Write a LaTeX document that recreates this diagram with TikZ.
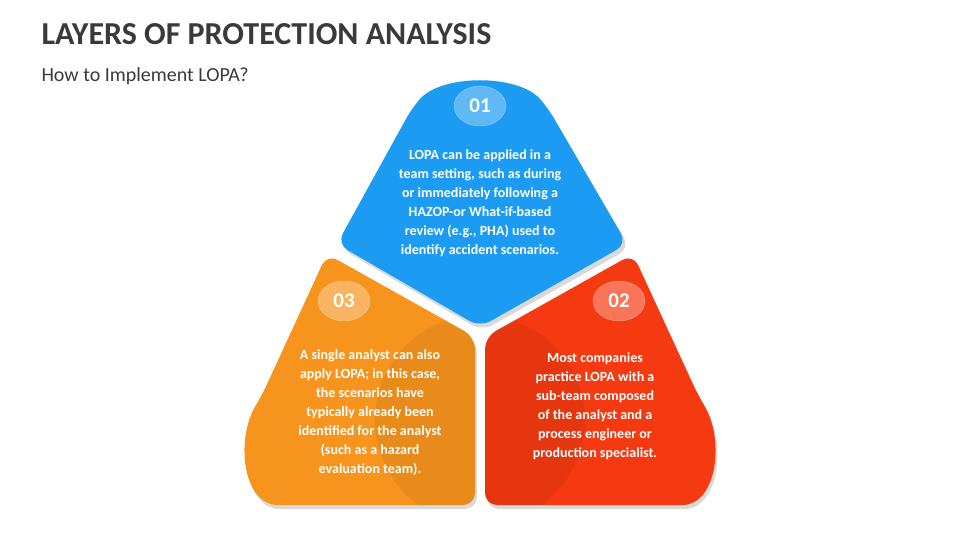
\documentclass[tikz,border=0pt]{standalone}
\usepackage{fontspec}
\setmainfont{Carlito}
\usetikzlibrary{positioning}
\definecolor{titlegray}{HTML}{3A3A3A}
\definecolor{lopablue}{HTML}{1C9BF2}
\definecolor{lopaorange}{HTML}{F7941D}
\definecolor{lopared}{HTML}{F53A12}
\tikzset{
  petal/.style={rounded corners=12pt},
  numbadge/.style={ellipse, fill=white, fill opacity=0.3, text opacity=1, text=white,
    font=\fontsize{21}{21}\selectfont\bfseries, minimum width=52pt, minimum height=40pt,
    draw=white, draw opacity=0.4},
  bodytext/.style={text=white, align=center, font=\fontsize{14}{19}\selectfont\bfseries}
}
\usetikzlibrary{shapes.geometric}
\begin{document}
\begin{tikzpicture}[x=1pt,y=-1pt]
\useasboundingbox (0,0) rectangle (960,540);
% title
\node[anchor=west, text=titlegray, font=\fontsize{32}{32}\selectfont\bfseries] (title) at (38,34) {LAYERS OF PROTECTION ANALYSIS};
\node[anchor=west, text=titlegray, font=\fontsize{20}{20}\selectfont] (subtitle) at (38,76) {How to Implement LOPA?};
% shadows
\fill[black!15, petal] (340,248) -- (482,331) -- (630,248) -- (550,112) .. controls (520,78) and (444,78) .. (414,112) -- cycle;
\fill[black!15, petal] (330,258) -- (477,341) -- (477,509) -- (292,509) .. controls (245,509) and (237,444) .. (264,399) -- cycle;
\fill[black!15, petal] (634,258) -- (487,341) -- (487,509) -- (672,509) .. controls (719,509) and (727,444) .. (700,399) -- cycle;
% pieces
\fill[lopablue, petal] (337,244) -- (480,327) -- (627,244) -- (548,108) .. controls (518,74) and (442,74) .. (412,108) -- cycle;
\fill[lopaorange, petal] (327,254) -- (475,337) -- (475,505) -- (290,505) .. controls (243,505) and (235,440) .. (262,395) -- cycle;
\fill[lopared, petal] (633,254) -- (485,337) -- (485,505) -- (670,505) .. controls (717,505) and (725,440) .. (698,395) -- cycle;
% subtle overlaps
\begin{scope}
\clip[petal] (327,254) -- (475,337) -- (475,505) -- (290,505) .. controls (243,505) and (235,440) .. (262,395) -- cycle;
\fill[black, opacity=0.06] (480,420) circle (105);
\end{scope}
\begin{scope}
\clip[petal] (633,254) -- (485,337) -- (485,505) -- (670,505) .. controls (717,505) and (725,440) .. (698,395) -- cycle;
\fill[black, opacity=0.06] (480,420) circle (105);
\end{scope}
% badges
\node[numbadge] (n1) at (480,106) {01};
\node[numbadge] (n2) at (619,301) {02};
\node[numbadge] (n3) at (344,301) {03};
% texts
\node[bodytext] (t1) at (480,203) {LOPA can be applied in a\\team setting, such as during\\or immediately following a\\HAZOP-or What-if-based\\review (e.g., PHA) used to\\identify accident scenarios.};
\node[bodytext] (t3) at (370,413) {A single analyst can also\\apply LOPA; in this case,\\the scenarios have\\typically already been\\identified for the analyst\\(such as a hazard\\evaluation team).};
\node[bodytext] (t2) at (595,406) {Most companies\\practice LOPA with a\\sub-team composed\\of the analyst and a\\process engineer or\\production specialist.};
\end{tikzpicture}
\end{document}
